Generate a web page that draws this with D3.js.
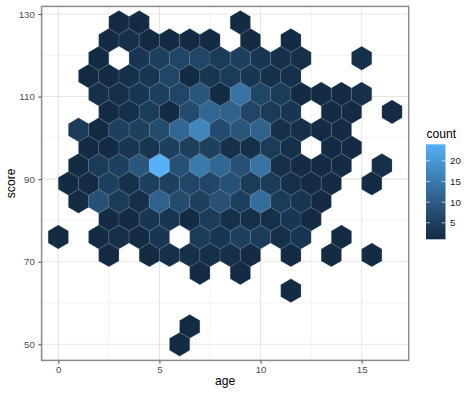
<!DOCTYPE html>
<html>
<head>
<meta charset="utf-8">
<script src="https://cdn.jsdelivr.net/npm/d3@7"></script>
<style>
body { margin: 0; background: #fff; }
text { font-family: "Liberation Sans", Arial, Helvetica, sans-serif; }
</style>
</head>
<body>
<svg id="chart" width="474" height="395"></svg>
<script>
// hex bins (binwidth: 1 year of age, 5 points of score), listed row by row
var binWidth = [1, 5];
var rowScore = [50.00, 54.33, 58.66, 62.99, 67.32, 71.65, 75.98, 80.31, 84.64, 88.97,
	93.30, 97.63, 101.96, 106.29, 110.62, 114.95, 119.28, 123.61, 127.94];
var rowAge = [
	[6],
	[6.5],
	[],
	[11.5],
	[7, 9],
	[2.5, 4.5, 5.5, 6.5, 7.5, 8.5, 9.5, 11.5, 13.5, 15.5],
	[0, 2, 3, 4, 5, 7, 8, 9, 10, 11, 12, 14],
	[2.5, 3.5, 4.5, 5.5, 6.5, 7.5, 8.5, 9.5, 10.5, 11.5, 12.5],
	[1, 2, 3, 4, 5, 6, 7, 8, 9, 10, 11, 12, 13],
	[0.5, 1.5, 2.5, 3.5, 4.5, 5.5, 6.5, 7.5, 8.5, 9.5, 10.5, 11.5, 12.5, 13.5, 15.5],
	[1, 2, 3, 4, 5, 6, 7, 8, 9, 10, 11, 12, 13, 14, 16],
	[1.5, 2.5, 3.5, 4.5, 5.5, 6.5, 7.5, 8.5, 9.5, 10.5, 11.5, 13.5, 14.5],
	[1, 2, 3, 4, 5, 6, 7, 8, 9, 10, 11, 12, 13, 14],
	[2.5, 3.5, 4.5, 5.5, 6.5, 7.5, 8.5, 9.5, 10.5, 11.5, 13.5, 14.5, 16.5],
	[2, 3, 4, 5, 6, 7, 8, 9, 10, 11, 12, 13, 14, 15],
	[1.5, 2.5, 3.5, 4.5, 5.5, 6.5, 7.5, 8.5, 9.5, 10.5, 11.5],
	[2, 4, 5, 6, 7, 8, 9, 10, 11, 12, 15],
	[2.5, 3.5, 4.5, 5.5, 6.5, 7.5, 9.5, 11.5],
	[3, 4, 9]
];
var rowCount = [
	[1],
	[1],
	[],
	[1],
	[1, 1],
	[1, 1, 2, 2, 2, 2, 1, 1, 1, 1],
	[1, 1, 2, 1, 3, 4, 3, 5, 4, 2, 3, 1],
	[1, 1, 3, 3, 1, 4, 2, 2, 2, 3, 1],
	[1, 8, 4, 2, 11, 7, 5, 8, 5, 13, 4, 3, 1],
	[1, 1, 5, 2, 5, 5, 6, 6, 8, 4, 4, 2, 1, 1, 1],
	[1, 4, 5, 9, 24, 8, 15, 12, 8, 14, 2, 1, 1, 1, 2],
	[1, 1, 3, 3, 5, 5, 5, 2, 2, 4, 2, 1, 1],
	[4, 1, 5, 5, 7, 12, 17, 7, 9, 11, 2, 2, 1, 1],
	[1, 2, 4, 1, 7, 12, 11, 6, 4, 3, 1, 1, 1],
	[2, 2, 3, 5, 6, 9, 1, 14, 6, 4, 1, 1, 1, 2],
	[1, 1, 2, 3, 6, 1, 3, 4, 3, 2, 2],
	[1, 3, 5, 6, 6, 4, 5, 3, 2, 2, 2],
	[1, 2, 1, 1, 1, 1, 1, 1],
	[1, 1, 1]
];

var xTicks = [0, 5, 10, 15];
var xMinor = [2.5, 7.5, 12.5];
var yTicks = [50, 70, 90, 110, 130];
var yMinor = [60, 80, 100, 120];
var legendTicks = [5, 10, 15, 20];

var hexes = [];
rowScore.forEach(function(s, i) {
	rowAge[i].forEach(function(a, j) {
		hexes.push({age: a, score: s, count: rowCount[i][j]});
	});
});

/*
Panel and scales
*/
var panel = {left: 41.6, right: 408.7, top: 6.4, bottom: 360.4};

function expand(ext) {
	var pad = (ext[1] - ext[0]) * 0.05;
	return [ext[0] - pad, ext[1] + pad];
}

var x = d3.scaleLinear()
	.domain(expand(d3.extent(hexes, function(d) { return d.age; })))
	.range([panel.left, panel.right]);
var y = d3.scaleLinear()
	.domain(expand(d3.extent(hexes, function(d) { return d.score; })))
	.range([panel.bottom, panel.top]);
var countExtent = d3.extent(hexes, function(d) { return d.count; });
var fill = d3.scaleLinear()
	.domain(countExtent)
	.range(["#132B43", "#56B1F7"])
	.interpolate(d3.interpolateLab);

var svg = d3.select("#chart");

// grid
var grid = svg.append("g");
grid.selectAll(".vminor").data(xMinor).enter().append("line")
	.attr("x1", x).attr("x2", x).attr("y1", panel.top).attr("y2", panel.bottom)
	.attr("stroke", "#EBEBEB").attr("stroke-width", 0.6);
grid.selectAll(".hminor").data(yMinor).enter().append("line")
	.attr("y1", y).attr("y2", y).attr("x1", panel.left).attr("x2", panel.right)
	.attr("stroke", "#EBEBEB").attr("stroke-width", 0.6);
grid.selectAll(".vmajor").data(xTicks).enter().append("line")
	.attr("x1", x).attr("x2", x).attr("y1", panel.top).attr("y2", panel.bottom)
	.attr("stroke", "#E6E6E6").attr("stroke-width", 1.1);
grid.selectAll(".hmajor").data(yTicks).enter().append("line")
	.attr("y1", y).attr("y2", y).attr("x1", panel.left).attr("x2", panel.right)
	.attr("stroke", "#E6E6E6").attr("stroke-width", 1.1);

// hexagons, same corner order as hexbin::hexcoords
var dx = binWidth[0] / 2;
var dy = binWidth[1] / Math.sqrt(3) / 2;
var corners = [[dx, dy], [0, 2 * dy], [-dx, dy], [-dx, -dy], [0, -2 * dy], [dx, -dy]];

svg.append("g").selectAll("path").data(hexes).enter().append("path")
	.attr("d", function(d) {
		return d3.line()(corners.map(function(c) {
			return [x(d.age + c[0]), y(d.score + c[1])];
		})) + "Z";
	})
	.attr("fill", function(d) { return fill(d.count); })
	.attr("stroke", "rgba(130,140,155,0.45)")
	.attr("stroke-width", 0.5);

// panel border
svg.append("rect")
	.attr("x", panel.left).attr("y", panel.top)
	.attr("width", panel.right - panel.left).attr("height", panel.bottom - panel.top)
	.attr("fill", "none").attr("stroke", "#8a8a8a").attr("stroke-width", 1.5);

// axes
function styleAxis(g) {
	g.select(".domain").remove();
	g.selectAll(".tick line").attr("stroke", "#555555").attr("stroke-width", 1);
	g.selectAll(".tick text").attr("fill", "#4D4D4D").attr("font-size", "9.7px")
		.attr("font-family", "'Liberation Sans', Arial, sans-serif");
}
svg.append("g")
	.attr("transform", "translate(0," + panel.bottom + ")")
	.call(d3.axisBottom(x).tickValues(xTicks).tickSize(3.3).tickPadding(2.4).tickSizeOuter(0))
	.call(styleAxis);
svg.append("g")
	.attr("transform", "translate(" + panel.left + ",0)")
	.call(d3.axisLeft(y).tickValues(yTicks).tickSize(3.3).tickPadding(3.5).tickSizeOuter(0))
	.call(styleAxis);

svg.append("text")
	.attr("x", (panel.left + panel.right) / 2).attr("y", 385)
	.attr("text-anchor", "middle").attr("font-size", "12.1px").text("age");
svg.append("text")
	.attr("transform", "translate(15.2," + (panel.top + panel.bottom) / 2 + ") rotate(-90)")
	.attr("text-anchor", "middle").attr("font-size", "12.1px").text("score");

/*
Legend colourbar
*/
var bar = {x: 426, top: 144.3, bottom: 239.3, w: 19.5};
var yLeg = d3.scaleLinear().domain(countExtent).range([bar.bottom, bar.top]);

var grad = svg.append("defs").append("linearGradient")
	.attr("id", "countGrad").attr("x1", 0).attr("x2", 0).attr("y1", 1).attr("y2", 0);
grad.selectAll("stop").data(d3.range(0, 1.0001, 0.05)).enter().append("stop")
	.attr("offset", function(t) { return t; })
	.attr("stop-color", function(t) { return fill(countExtent[0] + t * (countExtent[1] - countExtent[0])); });

svg.append("text").attr("x", bar.x + 0.5).attr("y", 137.5)
	.attr("font-size", "12.1px").text("count");
svg.append("rect")
	.attr("x", bar.x).attr("y", bar.top).attr("width", bar.w).attr("height", bar.bottom - bar.top)
	.attr("fill", "url(#countGrad)");

var legTicks = svg.append("g").selectAll("g").data(legendTicks).enter().append("g");
legTicks.append("line")
	.attr("x1", bar.x).attr("x2", bar.x + bar.w * 0.2)
	.attr("y1", yLeg).attr("y2", yLeg)
	.attr("stroke", "#ffffff").attr("stroke-opacity", 0.8).attr("stroke-width", 0.8);
legTicks.append("line")
	.attr("x1", bar.x + bar.w * 0.8).attr("x2", bar.x + bar.w)
	.attr("y1", yLeg).attr("y2", yLeg)
	.attr("stroke", "#ffffff").attr("stroke-opacity", 0.8).attr("stroke-width", 0.8);
legTicks.append("text")
	.attr("x", bar.x + bar.w + 4.5).attr("y", yLeg).attr("dy", "0.35em")
	.attr("font-size", "9.7px").attr("fill", "#1a1a1a")
	.text(function(d) { return d; });
</script>
</body>
</html>
